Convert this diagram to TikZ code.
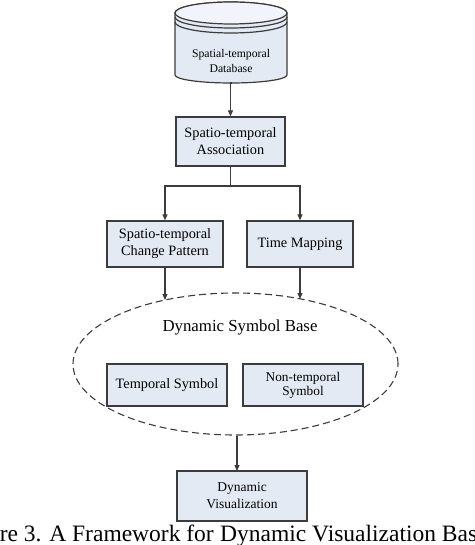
\documentclass[tikz,border=0pt]{standalone}
\usepackage{fontspec}
\setmainfont{Liberation Serif}
\usetikzlibrary{arrows.meta,shapes.geometric}
\definecolor{boxfill}{HTML}{E4EAF4}
\definecolor{boxline}{HTML}{3C3C3C}
\definecolor{dbtop}{HTML}{F1F4FA}
\begin{document}
\begin{tikzpicture}[x=1pt,y=-1pt,
  blk/.style={draw=boxline, fill=boxfill, line width=1.3pt, inner sep=0pt, align=center},
  conn/.style={draw=boxline, line width=1.1pt},
  arr/.style={conn, -{Triangle[length=6pt,width=5pt]}},
  txt/.style={font=\fontsize{14.3}{17}\selectfont},
  stxt/.style={font=\fontsize{13.3}{14}\selectfont},
  captxt/.style={font=\fontsize{23.5}{28}\selectfont, inner sep=0pt}]
\useasboundingbox (0,0) rectangle (474,545);

% database cylinder
\path[fill=boxfill, draw=boxline, line width=1.2pt]
  (175,13) -- (175,75) arc[start angle=180, end angle=0, x radius=56, y radius=8]
  -- (287,13) arc[start angle=0, end angle=-180, x radius=56, y radius=11] -- cycle;
\draw[boxline, line width=1.2pt] (175,17) arc[start angle=180, end angle=0, x radius=56, y radius=11];
\draw[boxline, line width=1.2pt] (175,22) arc[start angle=180, end angle=0, x radius=56, y radius=11];
\draw[boxline, fill=dbtop, line width=1.2pt] (231,13) ellipse[x radius=56, y radius=11];
\node[font=\fontsize{11.7}{15}\selectfont, align=center] (db) at (231,61) {Spatial-temporal\\Database};
\coordinate (dbbot) at (231,83);

% boxes
\node[blk, txt, minimum width=109pt, minimum height=49pt] (assoc) at (230.5,141.5) {Spatio-temporal\\Association};
\node[blk, txt, minimum width=116pt, minimum height=46pt] (lb) at (165,244) {Spatio-temporal\\Change Pattern};
\node[blk, txt, minimum width=106pt, minimum height=46pt] (rb) at (300,244) {Time Mapping};

% dynamic symbol base
\node[draw=boxline, dash pattern=on 7pt off 4pt, line width=1.1pt, ellipse,
      minimum width=325pt, minimum height=142pt, inner sep=0pt] (dsb) at (235.5,364) {};
\node[font=\fontsize{16.8}{20}\selectfont] (dsbl) at (240,327) {Dynamic Symbol Base};
\node[blk, txt, minimum width=120pt, minimum height=42pt] (ts) at (167,385) {Temporal Symbol};
\node[blk, stxt, minimum width=120pt, minimum height=42pt] (nts) at (303,385) {Non-temporal\\Symbol};
\coordinate (e1) at (165,300);
\coordinate (e2) at (300,299);

\node[blk, font=\fontsize{13.5}{17}\selectfont, minimum width=130pt, minimum height=50pt] (viz) at (242,496) {Dynamic\\Visualization};

% connectors
\draw[arr] (dbbot) -- (assoc.north |- dbbot) -- (assoc.north);
\coordinate (split) at (230.5,186);
\draw[conn] (assoc.south) -- (split);
\draw[arr] (split) -| (lb.north);
\draw[arr] (split) -| (rb.north);
\draw[arr] (lb.south) -- (e1);
\draw[arr] (rb.south) -- (e2);
\coordinate (vtop) at (237,471);
\draw[arr] (dsb.south -| vtop) -- (vtop);

% caption (cut by the frame)
\begin{scope}
\clip (0,0) rectangle (474,545);
\node[captxt, anchor=base east] (cap1) at (214,541) {ure 3. A Framework for};
\node[captxt, anchor=base west] (cap2) at (220,541) {Dynamic Visualization Base};
\end{scope}
\end{tikzpicture}
\end{document}
